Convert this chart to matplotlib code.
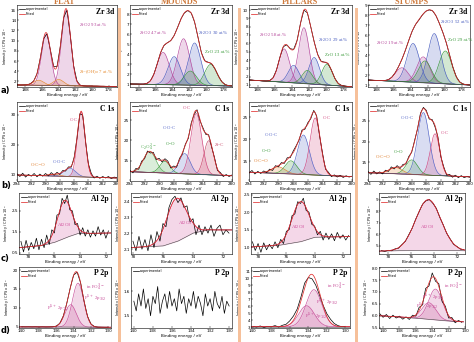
import numpy as np
import matplotlib
matplotlib.use("Agg")
import matplotlib.pyplot as plt
from matplotlib.patches import Rectangle

W,H=474,342

# ---- Zr 3d ----
zr_x=np.linspace(189,177,31)
zr_flat_exp=[1.31,1.28,1.30,1.33,1.55,2.08,3.50,6.60,10.40,11.35,8.25,4.95,4.90,8.90,14.55,15.98,10.95,5.05,2.05,1.25,1.12,1.08,1.09,1.06,1.07,1.04,1.05,1.02,1.03,1.00,1.01]
zr_mounds_exp=[1.05,1.04,1.04,1.03,1.04,1.12,1.37,2.01,3.05,4.16,4.88,5.15,5.37,5.88,6.68,7.53,8.11,8.35,8.10,7.20,5.69,4.16,3.36,3.21,3.06,2.55,1.84,1.28,0.99,0.89,0.86]
zr_pillars_exp=[1.60,1.57,1.55,1.52,1.49,1.48,1.53,1.86,2.80,4.33,5.60,5.82,5.36,5.27,6.34,8.41,9.98,9.66,7.96,6.16,4.68,3.85,3.74,3.58,2.78,1.80,1.19,0.94,0.86,0.83,0.80]
zr_stumps_exp=[1.50,1.48,1.47,1.45,1.44,1.46,1.54,1.79,2.24,2.86,3.61,4.50,5.50,6.42,7.10,7.55,8.05,8.42,8.56,8.46,7.97,7.19,6.30,5.28,4.02,2.76,1.82,1.30,1.10,1.03,1.00]
zr_bg_x=[189,177]
zr_flat_bg=[1.3,1.0];zr_mounds_bg=[1.05,0.85];zr_pillars_bg=[1.6,0.8];zr_stumps_bg=[1.5,1.0]
# (centre, height, sigma, species)
zr_flat_peaks=[(185.5,10.0,.55,"zro2"),(183.1,14.75,.55,"zro2"),(186.4,1.0,.6,"zroh"),(184.0,1.2,.6,"zroh")]
zr_mounds_peaks=[(185.1,3.2,.72,"zro2"),(182.7,4.6,.72,"zro2"),(183.8,2.8,.72,"zr2o3"),(181.4,4.2,.72,"zr2o3"),(181.9,1.4,.72,"zro"),(179.5,2.1,.72,"zro")]
zr_pillars_peaks=[(184.9,4.0,.62,"zro2"),(182.6,6.7,.62,"zro2"),(183.8,2.1,.62,"zr2o3"),(181.4,3.2,.62,"zr2o3"),(182.2,1.6,.62,"zro"),(179.9,2.5,.62,"zro")]
zr_stumps_peaks=[(185.0,1.4,.75,"zro2"),(182.5,2.6,.75,"zro2"),(183.7,3.9,.75,"zr2o3"),(181.2,5.0,.75,"zr2o3"),(182.3,2.2,.75,"zro"),(179.9,3.3,.75,"zro")]

# ---- C 1s ----
c_x=np.linspace(294,280,36)
c_flat_exp=[10.4,9.5,10.6,9.3,10.2,9.6,10.5,9.4,10.3,9.6,10.5,9.7,10.8,9.9,10.9,10.2,11.5,11.3,12.7,12.6,15.9,22.3,30.4,29.9,21.0,13.7,10.5,9.0,9.6,8.9,9.5,9.0,9.5,8.8,9.3,9.1]
c_mounds_exp=[12.6,12.0,13.1,12.9,14.9,15.5,17.4,16.9,17.1,15.3,15.6,14.7,15.5,14.9,13.2,13.7,13.4,15.6,16.7,19.1,20.5,24.3,26.4,27.6,24.9,23.2,21.5,21.4,18.4,15.8,12.6,12.1,11.1,11.6,11.1,11.5]
c_pillars_exp=[12.3,12.9,12.1,12.7,12.2,12.8,12.4,13.2,12.9,14.0,13.7,14.7,14.5,15.8,15.8,17.3,18.5,19.8,22.1,22.3,23.8,24.7,26.6,25.3,20.7,16.8,13.2,12.5,11.5,11.9,11.4,11.8,11.3,11.7,11.4,11.6]
c_stumps_exp=[12.8,12.1,12.9,12.2,12.7,12.2,13.1,12.8,13.9,13.4,14.2,13.5,14.5,14.6,16.4,17.4,20.3,23.0,26.8,28.2,27.5,25.4,25.3,23.5,21.1,16.3,13.9,11.9,12.1,11.4,11.9,11.3,11.8,11.3,11.6,11.4]
c_bg_x=[294,280]
c_flat_bg=[10.0,9.0];c_mounds_bg=[12.3,11.3];c_pillars_bg=[12.5,11.5];c_stumps_bg=[12.5,11.5]
c_flat_peaks=[(285.0,21.5,.55,"cc"),(286.6,2.8,.8,"coc"),(288.8,0.6,.8,"oco")]
c_mounds_peaks=[(291.3,5.2,.85,"c2o4"),(289.2,2.9,.7,"co"),(286.5,5.0,.75,"coc"),(284.9,15.0,.75,"cc"),(283.2,8.4,.65,"zrc")]
c_pillars_peaks=[(290.0,1.5,.9,"oco"),(288.3,3.0,.8,"co"),(286.6,9.0,.8,"coc"),(285.0,13.0,.7,"cc")]
c_stumps_peaks=[(290.2,1.5,.9,"oco"),(288.0,3.5,.8,"co"),(286.4,15.0,.8,"coc"),(284.8,10.0,.65,"cc")]

# ---- Al 2p ----
al_flat_x=np.linspace(78.6,71.8,35)
al_flat_exp=[1.05,0.55,1.10,0.62,1.00,0.70,1.20,0.65,1.15,0.75,1.35,0.90,1.60,1.45,2.30,2.35,3.10,2.85,3.25,2.55,2.50,1.85,1.90,1.35,1.70,1.30,1.60,1.25,1.55,1.30,1.75,1.35,1.60,1.20,1.55]
al_mounds_x=np.linspace(78.0,71.6,33)
al_mounds_exp=[2.15,2.09,2.18,2.10,2.16,2.09,2.19,2.11,2.21,2.15,2.26,2.24,2.36,2.41,2.43,2.39,2.42,2.36,2.37,2.27,2.29,2.19,2.25,2.19,2.24,2.20,2.25,2.18,2.23,2.25,2.19,2.22,2.20]
al_pillars_x=np.linspace(78.4,71.6,35)
al_pillars_exp=[1.15,0.90,1.10,0.85,1.12,0.92,1.08,0.95,1.15,0.98,1.22,1.10,1.45,1.50,1.90,1.95,2.30,2.25,2.40,2.05,2.00,1.65,1.60,1.35,1.45,1.20,1.40,1.22,1.38,1.18,1.42,1.25,1.35,1.20,1.33]
al_stumps_x=np.linspace(78.6,71.4,25)
al_stumps_exp=[4.60,4.52,4.62,4.58,4.75,4.80,5.12,5.40,5.98,6.55,7.33,7.97,8.63,8.92,9.03,8.70,8.27,7.48,6.84,6.10,5.62,5.15,4.95,4.72,4.68]
al_flat_bgx=[78.75,77,76,75,74.2,71.6];al_flat_bg=[0.75,0.85,1.0,1.25,1.42,1.45]
al_mounds_bgx=[78.13,76,75,74,73,71.4];al_mounds_bg=[2.11,2.12,2.15,2.2,2.22,2.22]
al_pillars_bgx=[78.5,76.5,75,74,71.5];al_pillars_bg=[1.0,1.05,1.15,1.28,1.3]
al_stumps_bgx=[78.8,77,75.5,74,72.5,71.3];al_stumps_bg=[4.55,4.58,4.62,4.62,4.6,4.58]
al_flat_peaks=[(75.2,1.8,.55,"al2o3")]
al_mounds_peaks=[(75.1,0.27,.65,"al2o3")]
al_pillars_peaks=[(75.0,1.15,.6,"al2o3")]
al_stumps_peaks=[(74.5,4.4,1.1,"al2o3")]

# ---- P 2p ----
p_x=np.linspace(140,130,26)
p_flat_exp=[5.02,4.98,5.0,4.97,5.0,4.96,4.99,4.96,4.98,5.02,5.21,5.95,7.84,11.16,15.27,18.67,19.43,16.59,11.77,7.76,5.73,5.08,4.93,4.92,4.9,4.91]
p_mounds_x=np.linspace(140,130,41)
p_mounds_exp=[1.56,1.52,1.59,1.54,1.61,1.53,1.57,1.50,1.58,1.55,1.62,1.51,1.56,1.59,1.53,1.60,1.54,1.57,1.52,1.61,1.55,1.58,1.51,1.57,1.54,1.60,1.53,1.58,1.55,1.50,1.59,1.54,1.57,1.52,1.60,1.55,1.53,1.58,1.51,1.56,1.54]
p_pillars_exp=[3.1,3.0,3.15,2.95,3.1,3.05,3.2,3.0,3.25,3.4,3.9,4.6,5.6,7.3,9.3,10.1,9.9,9.0,7.6,6.1,4.9,4.1,3.5,3.2,3.05,3.1]
p_stumps_x=np.linspace(140.4,130.4,26)
p_stumps_exp=[6.08,5.93,6.05,5.88,6.02,5.90,5.98,5.85,5.95,5.84,6.02,5.98,6.35,6.45,7.15,7.25,7.80,7.45,7.35,6.60,6.40,5.90,5.92,5.70,5.80,5.72]
p_flat_bgx=[140.3,129.7];p_flat_bg=[5.0,4.9]
p_pillars_bgx=[140.2,129.5];p_pillars_bg=[3.05,3.05]
p_stumps_bgx=[140.5,137,135.5,133,131,130.2];p_stumps_bg=[6.0,5.92,5.88,5.8,5.75,5.74]
p_flat_peaks=[(133.5,11.6,.65,"p"),(134.35,5.9,.65,"p")]
p_pillars_peaks=[(133.4,5.3,.85,"p"),(134.2,3.0,.85,"p")]
p_stumps_peaks=[(133.6,1.3,.85,"p"),(134.4,0.7,.85,"p")]

COL={"zro2":"#b5479b","zr2o3":"#4b5fc0","zro":"#3a9a3a","zroh":"#e58a2e","cc":"#d2477f","coc":"#5566c8",
     "co":"#3a9a3a","oco":"#e08030","c2o4":"#5aae5a","zrc":"#c84a6a","al2o3":"#d04a9a","p":"#c8509a"}

def rect(l,t,r,b):return [l/W,1-b/H,(r-l)/W,(b-t)/H]

fig=plt.figure(figsize=(W/100,H/100),dpi=100)
fig.patch.set_facecolor("white")

def draw(box,x,y,bgx,bgy,peaks,xlim,ylim,yticks,xticks,head,notes,fmt="%g",fit=True):
    ax=fig.add_axes(rect(*box))
    xf=np.linspace(xlim[0],xlim[1],500)
    o=np.argsort(bgx);bgf=np.interp(xf,np.array(bgx)[o],np.array(bgy)[o])
    total=bgf.copy()
    for c,h,s,k in peaks:
        g=h*np.exp(-(xf-c)**2/(2*s*s))
        ax.fill_between(xf,bgf,bgf+g,color=COL[k],alpha=.22,lw=0)
        ax.plot(xf,bgf+g,color=COL[k],lw=.45)
        total=total+g
    if fit:ax.plot(xf,bgf,color="#444444",lw=.4)
    ax.plot(x,y,color="k",lw=.5,label="experimental")
    if fit:ax.plot(xf,total,color="#e03030",lw=.55,label="fitted")
    ax.set_xlim(xlim);ax.set_ylim(ylim)
    ax.set_xticks(xticks);ax.set_yticks(yticks)
    ax.yaxis.set_major_formatter(matplotlib.ticker.FormatStrFormatter(fmt))
    ax.tick_params(labelsize=3,length=1.2,width=.3,pad=.6,direction="in")
    for sp in ax.spines.values():sp.set_linewidth(.4)
    ax.set_xlabel("Binding energy / eV",fontsize=3,labelpad=.8)
    ax.set_ylabel("Intensity / CPS x 10$^3$",fontsize=2.5,labelpad=.5)
    ax.legend(loc="upper left",fontsize=2.4,frameon=False,handlelength=1.6,borderaxespad=.3,labelspacing=.15,handletextpad=.4)
    ax.text(.97,.96,head,transform=ax.transAxes,ha="right",va="top",fontsize=5.5,fontweight="bold",family="Liberation Serif")
    for fx,fy,t,k in notes:
        ax.text(fx,fy,t,transform=ax.transAxes,ha="left",va="center",fontsize=3.5,color=COL[k],family="Liberation Serif")
    return ax

colsA=[(17,117),(130,232),(249,352),(368,470)]
colsC=[(19,111),(131,232),(251,350),(379,465)]
rowA=(5,87);rowB=(102,181);rowC=(193,254);rowD=(267,328)
def bx(c,r):return (c[0],r[0],c[1],r[1])

zr_xt=[188,186,184,182,180,178]
draw(bx(colsA[0],rowA),zr_x,zr_flat_exp,zr_bg_x,zr_flat_bg,zr_flat_peaks,(189,177),(0.9,17),range(2,17,2),zr_xt,"Zr 3d",
     [(.62,.76,"ZrO$_2$ 93 at.%","zro2"),(.62,.18,"Zr-(OH)$_x$ 7 at.%","zroh")])
draw(bx(colsA[1],rowA),zr_x,zr_mounds_exp,zr_bg_x,zr_mounds_bg,zr_mounds_peaks,(189,177),(0.75,8.9),range(1,9),zr_xt,"Zr 3d",
     [(.09,.66,"ZrO$_2$ 47 at.%","zro2"),(.67,.66,"Zr$_2$O$_3$ 30 at.%","zr2o3"),(.74,.43,"ZrO 23 at.%","zro")])
draw(bx(colsA[2],rowA),zr_x,zr_pillars_exp,zr_bg_x,zr_pillars_bg,zr_pillars_peaks,(189,177),(0.76,10.6),range(1,11),zr_xt,"Zr 3d",
     [(.10,.63,"ZrO$_2$ 58 at.%","zro2"),(.67,.57,"Zr$_2$O$_3$ 29 at.%","zr2o3"),(.74,.39,"ZrO 13 at.%","zro")])
draw(bx(colsA[3],rowA),zr_x,zr_stumps_exp,zr_bg_x,zr_stumps_bg,zr_stumps_peaks,(189,177),(0.8,9.05),range(1,10),zr_xt,"Zr 3d",
     [(.08,.54,"ZrO$_2$ 19 at.%","zro2"),(.71,.79,"Zr$_2$O$_3$ 52 at.%","zr2o3"),(.78,.57,"ZrO 29 at.%","zro")])

c_xt=list(range(294,279,-2))
draw(bx(colsA[0],rowB),c_x,c_flat_exp,c_bg_x,c_flat_bg,c_flat_peaks,(294,280),(8,34.3),[10,20,30],c_xt,"C 1s",
     [(.53,.77,"C-C","cc"),(.36,.24,"C-O-C","coc"),(.14,.20,"O-C=O","oco")])
draw(bx(colsA[1],rowB),c_x,c_mounds_exp,c_bg_x,c_mounds_bg,c_mounds_peaks,(294,280),(10,29.5),[15,20,25],c_xt,"C 1s",
     [(.10,.43,"C$_2$O$_4^{2-}$","c2o4"),(.35,.47,"C=O","co"),(.32,.67,"C-O-C","coc"),(.52,.92,"C-C","cc"),(.83,.46,"Zr-C","zrc")])
draw(bx(colsA[2],rowB),c_x,c_pillars_exp,c_bg_x,c_pillars_bg,c_pillars_peaks,(294,280),(10.5,28.5),[15,20,25],c_xt,"C 1s",
     [(.72,.80,"C-C","cc"),(.15,.58,"C-O-C","coc"),(.12,.38,"C=O","co"),(.05,.25,"O-C=O","oco")])
draw(bx(colsA[3],rowB),c_x,c_stumps_exp,c_bg_x,c_stumps_bg,c_stumps_peaks,(294,280),(10.5,29.5),[15,20,25],c_xt,"C 1s",
     [(.32,.80,"C-O-C","coc"),(.25,.37,"C=O","co"),(.08,.30,"O-C=O","oco"),(.71,.61,"C-C","cc")])

al_xt=[78,76,74,72]
draw(bx(colsC[0],rowC),al_flat_x,al_flat_exp,al_flat_bgx,al_flat_bg,al_flat_peaks,(78.75,71.6),(0.45,3.35),[0.5,1.5,2.5],al_xt,"Al 2p",
     [(.41,.48,"Al$_2$O$_3$","al2o3")],fmt="%.1f")
draw(bx(colsC[1],rowC),al_mounds_x,al_mounds_exp,al_mounds_bgx,al_mounds_bg,al_mounds_peaks,(78.13,71.4),(2.07,2.45),[2.1,2.2,2.3,2.4],al_xt,"Al 2p",
     [(.47,.51,"Al$_2$O$_3$","al2o3")],fmt="%.1f")
draw(bx(colsC[2],rowC),al_pillars_x,al_pillars_exp,al_pillars_bgx,al_pillars_bg,al_pillars_peaks,(78.5,71.5),(0.8,2.55),[1.0,1.5,2.0,2.5],al_xt,"Al 2p",
     [(.40,.45,"Al$_2$O$_3$","al2o3")],fmt="%.1f")
draw(bx(colsC[3],rowC),al_stumps_x,al_stumps_exp,al_stumps_bgx,al_stumps_bg,al_stumps_peaks,(78.8,71.3),(4.3,9.6),range(5,10),al_xt,"Al 2p",
     [(.48,.44,"Al$_2$O$_3$","al2o3")])

p_xt=list(range(140,129,-2))
draw(bx(colsC[0],rowD),p_x,p_flat_exp,p_flat_bgx,p_flat_bg,p_flat_peaks,(140.3,129.7),(4.7,20.8),[5,10,15,20],p_xt,"P 2p",
     [(.73,.68,"in PO$_4^{3-}$","p"),(.71,.50,"P$^{5+}$ 2p$_{3/2}$","p"),(.30,.34,"P$^{5+}$ 2p$_{1/2}$","p")])
draw(bx(colsC[1],rowD),p_mounds_x,p_mounds_exp,[140.3,129.7],[1.5,1.5],[],(140.3,129.7),(1.45,1.7),[1.5,1.6],p_xt,"P 2p",[],fmt="%.1f",fit=False)
draw(bx(colsC[2],rowD),p_x,p_pillars_exp,p_pillars_bgx,p_pillars_bg,p_pillars_peaks,(140.2,129.5),(2.86,11.6),range(3,12),p_xt,"P 2p",
     [(.77,.70,"in PO$_4^{3-}$","p"),(.66,.44,"P$^{5+}$ 2p$_{3/2}$","p"),(.55,.21,"P$^{5+}$ 2p$_{1/2}$","p")])
draw(bx(colsC[3],rowD),p_stumps_x,p_stumps_exp,p_stumps_bgx,p_stumps_bg,p_stumps_peaks,(140.5,130.2),(5.48,8.05),[5.5,6.0,6.5,7.0,7.5,8.0],p_xt,"P 2p",
     [(.75,.70,"in PO$_4^{3-}$","p"),(.50,.52,"P$^{5+}$ 2p$_{3/2}$","p"),(.43,.38,"P$^{5+}$ 2p$_{1/2}$","p")],fmt="%.1f")

# column titles, separators, row letters
for t,xc in zip(["FLAT","MOUNDS","PILLARS","STUMPS"],[65,180,300,412]):
    fig.text(xc/W,1-2.5/H,t,ha="center",va="center",fontsize=6,color="#cf7a3c",family="Liberation Serif",fontweight="bold")
for xs in [118,238,355]:
    fig.patches.append(Rectangle((xs/W,0),3/W,1-8/H,transform=fig.transFigure,color="#f6c09a",lw=0))
for t,yc in zip(["a)","b)","c)","d)"],[91,185,258,331]):
    fig.text(1/W,1-yc/H,t,ha="left",va="center",fontsize=6,fontweight="bold")

fig.savefig("out.png",dpi=100)
